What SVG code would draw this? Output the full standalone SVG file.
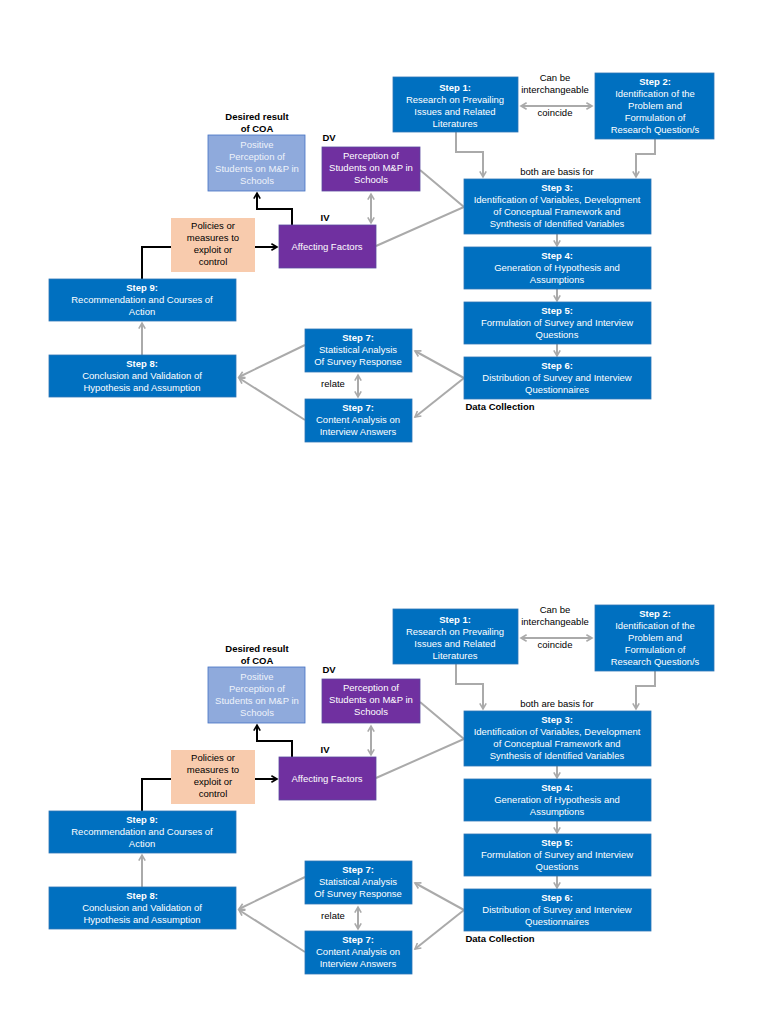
<svg xmlns="http://www.w3.org/2000/svg" xmlns:xlink="http://www.w3.org/1999/xlink" width="768" height="1024" viewBox="0 0 768 1024">
<style>
text{font-family:"Liberation Sans",Arial,sans-serif;font-size:9.5px;text-anchor:middle}
.b{fill:#0070C0;stroke:#2E75B6;stroke-width:0.8}
.p{fill:#7030A0;stroke:#5B4A9E;stroke-width:0.8}
.w{fill:#fff}
.wl{fill:#EEF2FA}
.bd{font-weight:bold}
.k{fill:#000}
.g{fill:none;stroke:#AAAAAA;stroke-width:2}
.bk{fill:none;stroke:#000;stroke-width:2}
</style>
<defs>
<marker id="ag" viewBox="0 0 10 10" refX="8" refY="5" markerWidth="4" markerHeight="4" orient="auto-start-reverse"><path d="M1,1 L8,5 L1,9" fill="none" stroke="#AAAAAA" stroke-width="2"/></marker>
<marker id="ak" viewBox="0 0 10 10" refX="8" refY="5" markerWidth="4" markerHeight="4" orient="auto-start-reverse"><path d="M1,1 L8,5 L1,9" fill="none" stroke="#000" stroke-width="2"/></marker>
</defs>
<rect width="768" height="1024" fill="#fff"/>
<g id="diagram">
<g id="connectors">
<path class="g" d="M521,106 H592" marker-start="url(#ag)" marker-end="url(#ag)"/>
<path class="g" d="M456,132 V152 H483 V177" marker-end="url(#ag)"/>
<path class="g" d="M655,139 V154 H636 V177" marker-end="url(#ag)"/>
<path class="g" d="M557,234 V246" marker-end="url(#ag)"/>
<path class="g" d="M557,289 V301" marker-end="url(#ag)"/>
<path class="g" d="M557,344 V356" marker-end="url(#ag)"/>
<path class="g" d="M420,170 L464,207 L376,246"/>
<path class="g" d="M371,194 V223" marker-start="url(#ag)" marker-end="url(#ag)"/>
<path class="bk" d="M292,225 V209 H257 V193" marker-end="url(#ak)"/>
<path class="bk" d="M142,279 V247 H171"/>
<path class="bk" d="M255,247 H277" marker-end="url(#ak)"/>
<path class="g" d="M142,355 V323" marker-end="url(#ag)"/>
<path class="g" d="M464,378 L415,351" marker-end="url(#ag)"/>
<path class="g" d="M464,378 L415,417" marker-end="url(#ag)"/>
<path class="g" d="M305,345 L239,377" marker-end="url(#ag)"/>
<path class="g" d="M305,420 L239,378" marker-end="url(#ag)"/>
<path class="g" d="M358,375 V397" marker-start="url(#ag)" marker-end="url(#ag)"/>
</g>
<g id="step1"><rect class="b" x="393" y="77" width="125" height="55"/>
<text class="w bd" x="455" y="91">Step 1:</text><text class="w" x="455" y="103">Research on Prevailing</text><text class="w" x="455" y="115">Issues and Related</text><text class="w" x="455" y="127">Literatures</text></g>
<g id="step2"><rect class="b" x="595" y="73" width="119" height="66"/>
<text class="w bd" x="655" y="85">Step 2:</text><text class="w" x="655" y="97">Identification of the</text><text class="w" x="655" y="109">Problem and</text><text class="w" x="655" y="121">Formulation of</text><text class="w" x="655" y="133">Research Question/s</text></g>
<g id="step3"><rect class="b" x="464" y="179" width="187" height="55"/>
<text class="w bd" x="557" y="191">Step 3:</text><text class="w" x="557" y="203">Identification of Variables, Development</text><text class="w" x="557" y="215">of Conceptual Framework and</text><text class="w" x="557" y="227">Synthesis of Identified Variables</text></g>
<g id="step4"><rect class="b" x="464" y="247" width="187" height="42"/>
<text class="w bd" x="557" y="259">Step 4:</text><text class="w" x="557" y="271">Generation of Hypothesis and</text><text class="w" x="557" y="283">Assumptions</text></g>
<g id="step5"><rect class="b" x="464" y="302" width="187" height="42"/>
<text class="w bd" x="557" y="314">Step 5:</text><text class="w" x="557" y="326">Formulation of Survey and Interview</text><text class="w" x="557" y="338">Questions</text></g>
<g id="step6"><rect class="b" x="464" y="357" width="187" height="42"/>
<text class="w bd" x="557" y="369">Step 6:</text><text class="w" x="557" y="381">Distribution of Survey and Interview</text><text class="w" x="557" y="393">Questionnaires</text></g>
<g id="step7a"><rect class="b" x="305" y="329" width="107" height="43"/>
<text class="w bd" x="358" y="341">Step 7:</text><text class="w" x="358" y="353">Statistical Analysis</text><text class="w" x="358" y="365">Of Survey Response</text></g>
<g id="step7b"><rect class="b" x="305" y="399" width="107" height="43"/>
<text class="w bd" x="358" y="411">Step 7:</text><text class="w" x="358" y="423">Content Analysis on</text><text class="w" x="358" y="435">Interview Answers</text></g>
<g id="step8"><rect class="b" x="49" y="355" width="187" height="42"/>
<text class="w bd" x="142" y="367">Step 8:</text><text class="w" x="142" y="379">Conclusion and Validation of</text><text class="w" x="142" y="391">Hypothesis and Assumption</text></g>
<g id="step9"><rect class="b" x="49" y="279" width="187" height="42"/>
<text class="w bd" x="142" y="291">Step 9:</text><text class="w" x="142" y="303">Recommendation and Courses of</text><text class="w" x="142" y="315">Action</text></g>
<g id="positive"><rect x="208" y="135" width="97" height="56" fill="#8FAADC" stroke="#4472C4" stroke-width="0.8"/>
<text class="wl" x="257" y="148">Positive</text><text class="wl" x="257" y="160">Perception of</text><text class="wl" x="257" y="172">Students on M&amp;P in</text><text class="wl" x="257" y="184">Schools</text></g>
<g id="dv"><rect class="p" x="322" y="147" width="98" height="44"/>
<text class="w" x="371" y="159">Perception of</text><text class="w" x="371" y="171">Students on M&amp;P in</text><text class="w" x="371" y="183">Schools</text></g>
<g id="affecting"><rect class="p" x="279" y="225" width="97" height="43"/>
<text class="w" x="327" y="250">Affecting Factors</text></g>
<g id="policies"><rect x="171" y="218" width="84" height="54" fill="#F8CBAD"/>
<text class="k" x="213" y="229">Policies or</text><text class="k" x="213" y="241">measures to</text><text class="k" x="213" y="253">exploit or</text><text class="k" x="213" y="265">control</text></g>
<g id="labels">
<text class="k bd" x="257" y="120">Desired result</text><text class="k bd" x="257" y="132">of COA</text>
<text class="k bd" x="329" y="141">DV</text>
<text class="k bd" x="325" y="221">IV</text>
<text class="k" x="555" y="81">Can be</text><text class="k" x="555" y="93">interchangeable</text><text class="k" x="555" y="116">coincide</text>
<text class="k" x="557" y="175">both are basis for</text>
<text class="k bd" x="500" y="410">Data Collection</text>
<text class="k" x="333" y="387">relate</text>
</g>
</g>
<use xlink:href="#diagram" href="#diagram" y="532"/>
</svg>
